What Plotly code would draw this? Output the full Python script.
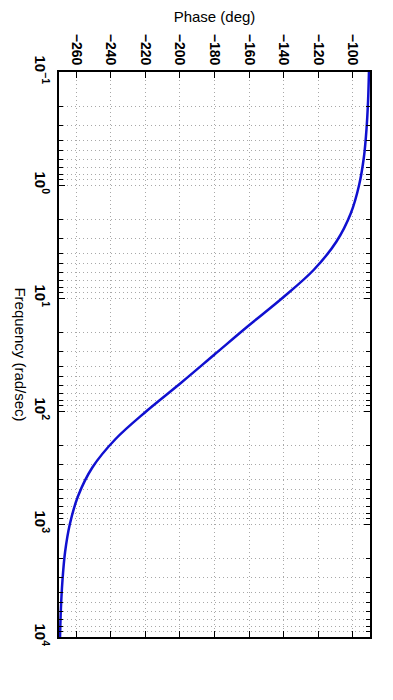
import plotly.graph_objects as go

# Frequency (rad/sec) as log10 values, with phase
log_freq = [-1.0, -0.75, -0.5, -0.25, 0.0, 0.25, 0.5, 0.75, 1.0, 1.25, 1.5,
            1.75, 2.0, 2.25, 2.5, 2.75, 3.0, 3.25, 3.5, 3.75, 4.0]
phase_deg = [-90.6, -91.1, -92.0, -93.5, -96.3, -101.1, -109.4, -122.5, -140.7,
             -160.7, -180.0, -199.3, -219.3, -237.4, -250.7, -258.9, -263.7,
             -266.5, -268.0, -268.9, -269.4]
freq = [10 ** v for v in log_freq]

phase_ticks = [-260, -240, -220, -200, -180, -160, -140, -120, -100]
freq_ticks = [0.1, 1, 10, 100, 1000, 10000]
freq_ticktext = ["10<sup>−1</sup>", "10<sup>0</sup>", "10<sup>1</sup>",
                 "10<sup>2</sup>", "10<sup>3</sup>", "10<sup>4</sup>"]
minor_freq = [m * d for d in [0.1, 1, 10, 100, 1000] for m in range(2, 10)]

fig = go.Figure()
fig.add_trace(go.Scatter(
    x=phase_deg, y=freq, mode="lines",
    line=dict(color="#1010d0", width=2.5, shape="spline", smoothing=1.0),
    showlegend=False, hoverinfo="skip"))

fam = "Liberation Sans, Arial, sans-serif"
title_font = dict(family=fam, size=15, color="black")
tick_font = dict(family=fam, size=14, color="black", weight="bold")
ytick_font = dict(family=fam, size=15, color="black", weight="bold")
grid_col = "#a8a8a8"
grid_dash = "1px,3px"

fig.update_layout(
    width=393, height=700,
    margin=dict(l=59, r=23, t=72, b=63),
    paper_bgcolor="white", plot_bgcolor="white",
    font=title_font,
    xaxis=dict(
        side="top", range=[-270, -90], tickvals=phase_ticks,
        tickangle=90, ticks="inside", ticklen=6, tickcolor="black",
        showline=True, linecolor="black", linewidth=1.5, mirror="allticks",
        showgrid=True, gridcolor=grid_col, griddash=grid_dash, gridwidth=1,
        zeroline=False, tickfont=tick_font,
        title=dict(text="Phase (deg)", font=title_font, standoff=8),
    ),
    yaxis=dict(
        type="log", range=[4, -1], tickvals=freq_ticks, ticktext=freq_ticktext,
        tickangle=90, ticks="inside", ticklen=6, tickcolor="black",
        showline=True, linecolor="black", linewidth=1.5, mirror="allticks",
        showgrid=True, gridcolor=grid_col, griddash=grid_dash, gridwidth=1,
        zeroline=False, tickfont=ytick_font, ticklabelstandoff=4,
        minor=dict(tickvals=minor_freq, ticks="inside", ticklen=4,
                   tickcolor="black", showgrid=True, gridcolor=grid_col,
                   griddash=grid_dash, gridwidth=1),
    ),
    annotations=[dict(
        text="Frequency (rad/sec)", textangle=90, showarrow=False,
        xref="paper", yref="paper", x=-0.125, y=0.5,
        xanchor="center", yanchor="middle", font=title_font)],
)

fig.write_html("out.html")
